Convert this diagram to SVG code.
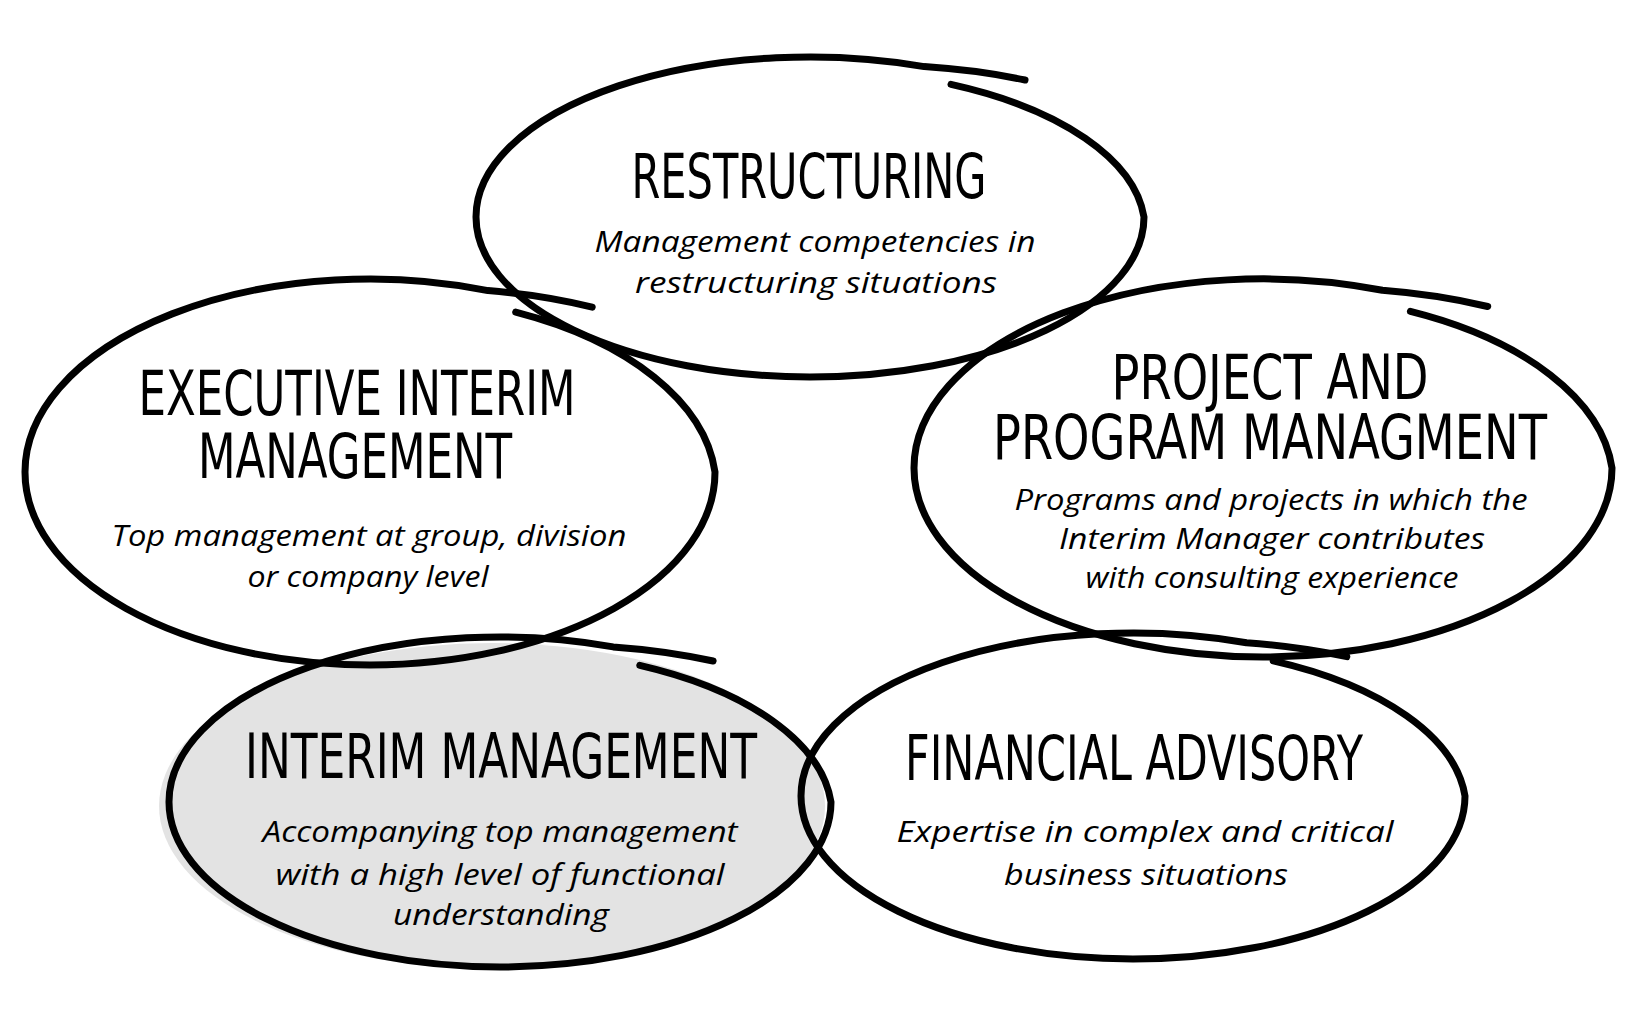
<svg xmlns="http://www.w3.org/2000/svg" width="1631" height="1024" viewBox="0 0 1631 1024">
<style>
.ring{fill:none;stroke:#000;stroke-width:7;stroke-linecap:round;stroke-linejoin:round}
.h{font-family:"DejaVu Sans Condensed","Liberation Sans Narrow","Liberation Sans",sans-serif;font-stretch:condensed;font-size:62px;fill:#000;text-anchor:middle}
.s{font-family:"Open Sans","Noto Sans","Liberation Sans",sans-serif;font-style:italic;font-weight:500;font-size:30px;fill:#000;text-anchor:middle}
</style>
<rect width="1631" height="1024" fill="#fff"/>
<g id="interim-management-fill">
<ellipse cx="492" cy="806" rx="333" ry="163" fill="#e3e3e3"/>
</g>
<g id="connectors"></g>
<g id="restructuring">
<path class="ring" d="M951,84.4 A334,160 0 0 1 1144,217 A334,160 0 0 1 476,217 A334,160 0 0 1 924.2,66.6 A384,184 0 0 1 1025,80"/>
<text class="h" x="809" y="198" textLength="355" lengthAdjust="spacingAndGlyphs">RESTRUCTURING</text>
<text class="s" x="815" y="252" textLength="441" lengthAdjust="spacingAndGlyphs">Management competencies in</text>
<text class="s" x="816" y="293" textLength="362" lengthAdjust="spacingAndGlyphs">restructuring situations</text>
</g>
<g id="executive-interim-management">
<path class="ring" d="M515.7,312.1 A345,193 0 0 1 715,472 A345,193 0 0 1 25,472 A345,193 0 0 1 488,290.6 A397,222 0 0 1 592.2,307.1"/>
<text class="h" x="357" y="415" textLength="437" lengthAdjust="spacingAndGlyphs">EXECUTIVE INTERIM</text>
<text class="h" x="355" y="478" textLength="314" lengthAdjust="spacingAndGlyphs">MANAGEMENT</text>
<text class="s" x="369" y="546" textLength="515" lengthAdjust="spacingAndGlyphs">Top management at group, division</text>
<text class="s" x="368" y="587" textLength="241" lengthAdjust="spacingAndGlyphs">or company level</text>
</g>
<g id="project-program-management">
<path class="ring" d="M1410.4,311.4 A349,189 0 0 1 1612,468 A349,189 0 0 1 914,468 A349,189 0 0 1 1382.4,290.3 A401,217 0 0 1 1487.7,306.5"/>
<text class="h" x="1270" y="399" textLength="317" lengthAdjust="spacingAndGlyphs">PROJECT AND</text>
<text class="h" x="1270" y="459" textLength="554" lengthAdjust="spacingAndGlyphs">PROGRAM MANAGMENT</text>
<text class="s" x="1271" y="510" textLength="513" lengthAdjust="spacingAndGlyphs">Programs and projects in which the</text>
<text class="s" x="1272" y="549" textLength="426" lengthAdjust="spacingAndGlyphs">Interim Manager contributes</text>
<text class="s" x="1272" y="588" textLength="373" lengthAdjust="spacingAndGlyphs">with consulting experience</text>
</g>
<g id="interim-management">
<path class="ring" d="M639.8,665.3 A331,165 0 0 1 831,802 A331,165 0 0 1 169,802 A331,165 0 0 1 613.2,646.9 A381,190 0 0 1 713.1,661"/>
<text class="h" x="501" y="778" textLength="512" lengthAdjust="spacingAndGlyphs">INTERIM MANAGEMENT</text>
<text class="s" x="500" y="842" textLength="475" lengthAdjust="spacingAndGlyphs">Accompanying top management</text>
<text class="s" x="500" y="885" textLength="449" lengthAdjust="spacingAndGlyphs">with a high level of functional</text>
<text class="s" x="501" y="925" textLength="216" lengthAdjust="spacingAndGlyphs">understanding</text>
</g>
<g id="financial-advisory">
<path class="ring" d="M1273.2,660.9 A332,163 0 0 1 1465,796 A332,163 0 0 1 801,796 A332,163 0 0 1 1246.5,642.8 A382,187 0 0 1 1346.8,656.7"/>
<text class="h" x="1134" y="780" textLength="458" lengthAdjust="spacingAndGlyphs">FINANCIAL ADVISORY</text>
<text class="s" x="1145" y="842" textLength="497" lengthAdjust="spacingAndGlyphs">Expertise in complex and critical</text>
<text class="s" x="1146" y="885" textLength="284" lengthAdjust="spacingAndGlyphs">business situations</text>
</g>
</svg>
